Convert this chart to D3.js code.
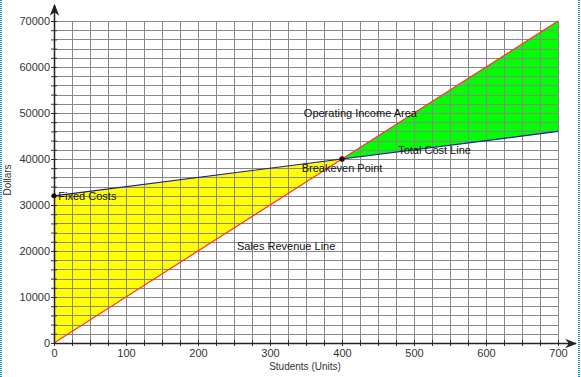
<!DOCTYPE html>
<html>
<head>
<meta charset="utf-8">
<script src="https://cdn.jsdelivr.net/npm/d3@7"></script>
<style>
  body { margin: 0; background: #fff; }
  svg { display: block; }
</style>
</head>
<body>
<svg width="581" height="377"></svg>
<script>
// исходные данные
const students = [0, 400, 700];
const fixedCosts = 32000;
const totalCost = [32000, 40000, 46000];
const salesRevenue = [0, 40000, 70000];
const xTicks = [0, 100, 200, 300, 400, 500, 600, 700];
const yTicks = [0, 10000, 20000, 30000, 40000, 50000, 60000, 70000];
const breakeven = {x: 400, y: 40000};
// подписи: точка начала текста в единицах графика
const labels = [
    {text: "Operating Income Area", x: 347, y: 49100},
    {text: "Total Cost Line", x: 478, y: 41100},
    {text: "Breakeven Point", x: 344, y: 37200},
    {text: "Sales Revenue Line", x: 254, y: 20200},
    {text: "Fixed Costs", x: 6, y: 31100}
];

const svg = d3.select("svg");
const W = 581, H = 377;

// рамка слева и справа
svg.append("line").attr("x1", 1).attr("x2", 1).attr("y1", 0).attr("y2", H)
    .attr("stroke", "#1a8ad8").attr("stroke-width", 2).attr("stroke-dasharray", "1,1");
svg.append("line").attr("x1", 579).attr("x2", 579).attr("y1", 0).attr("y2", H)
    .attr("stroke", "#1a8ad8").attr("stroke-width", 2).attr("stroke-dasharray", "1,1");

const scX = d3.scaleLinear().domain([0, 700]).range([54, 558]);
const scY = d3.scaleLinear().domain([0, 70000]).range([343, 21]);

// заливки
const loss = d3.range(0, 2).map(i => [students[i], totalCost[i]])
    .concat(d3.range(1, -1, -1).map(i => [students[i], salesRevenue[i]]));
const income = d3.range(1, 3).map(i => [students[i], salesRevenue[i]])
    .concat(d3.range(2, 0, -1).map(i => [students[i], totalCost[i]]));

const area = d3.line().x(d => scX(d[0])).y(d => scY(d[1]));
svg.append("path").attr("d", area(loss) + "Z").attr("fill", "#ffff00");
svg.append("path").attr("d", area(income) + "Z").attr("fill", "#00ff00");

// сетка
const g = svg.append("g").attr("stroke", "#888").attr("stroke-width", 1);
g.selectAll(".vx").data(d3.range(25, 701, 25)).enter().append("line")
    .attr("x1", d => Math.round(scX(d)) + 0.5).attr("x2", d => Math.round(scX(d)) + 0.5)
    .attr("y1", scY(70000)).attr("y2", scY(0));
g.selectAll(".hy").data(d3.range(2000, 70001, 2000)).enter().append("line")
    .attr("y1", d => Math.round(scY(d)) + 0.5).attr("y2", d => Math.round(scY(d)) + 0.5)
    .attr("x1", scX(0)).attr("x2", scX(700));

// линии
const line = d3.line().x((d, i) => scX(students[i])).y(d => scY(d));
svg.append("path").attr("d", line(totalCost)).attr("fill", "none")
    .attr("stroke", "#1a1a99").attr("stroke-width", 1.2);
svg.append("path").attr("d", line(salesRevenue)).attr("fill", "none")
    .attr("stroke", "#ff3333").attr("stroke-width", 1.2);

// оси
const axisX = d3.axisBottom(scX).tickValues(d3.range(0, 701, 25))
    .tickSize(4).tickFormat(d => xTicks.includes(d) ? d : "");
const axisY = d3.axisLeft(scY).tickValues(d3.range(0, 70001, 2000))
    .tickSize(4).tickFormat(d => yTicks.includes(d) ? d : "");

const gx = svg.append("g").attr("transform", `translate(0, ${scY(0)})`).call(axisX);
gx.select(".domain").remove();
gx.selectAll("line").attr("stroke", "#333").attr("y1", -3).attr("y2", 3);
gx.selectAll("text").attr("y", 6).attr("dy", "0.71em");

const gy = svg.append("g").attr("transform", `translate(${scX(0)}, 0)`).call(axisY);
gy.select(".domain").remove();
gy.selectAll("line").attr("stroke", "#333").attr("x1", -3).attr("x2", 3);
gy.selectAll("text").attr("x", -4);

svg.selectAll(".tick text").attr("font-family", "Liberation Sans, Arial, sans-serif")
    .attr("font-size", 11).attr("fill", "#333");

// линии осей со стрелками
svg.append("defs").append("marker").attr("id", "arr")
    .attr("viewBox", "0 0 10 10").attr("refX", 9).attr("refY", 5)
    .attr("markerWidth", 8).attr("markerHeight", 8).attr("orient", "auto")
    .append("path").attr("d", "M0,1 L10,5 L0,9 L3,5 Z").attr("fill", "#222");
svg.append("line").attr("x1", scX(0)).attr("x2", 581 - 5).attr("y1", scY(0) + 0.5).attr("y2", scY(0) + 0.5)
    .attr("stroke", "#222").attr("stroke-width", 1.5).attr("marker-end", "url(#arr)");
svg.append("line").attr("x1", scX(0) + 0.5).attr("x2", scX(0) + 0.5).attr("y1", scY(0)).attr("y2", 5)
    .attr("stroke", "#222").attr("stroke-width", 1.5).attr("marker-end", "url(#arr)");

// точки
svg.append("circle").attr("cx", scX(0)).attr("cy", scY(fixedCosts)).attr("r", 2.5).attr("fill", "#111");
svg.append("circle").attr("cx", scX(breakeven.x)).attr("cy", scY(breakeven.y)).attr("r", 2.5)
    .attr("fill", "#111").attr("stroke", "#800").attr("stroke-width", 0.8);

// подписи
svg.selectAll(".lbl").data(labels).enter().append("text")
    .attr("x", d => scX(d.x)).attr("y", d => scY(d.y))
    .attr("text-anchor", "start")
    .attr("font-family", "Liberation Sans, Arial, sans-serif").attr("font-size", 11)
    .attr("fill", "#111").text(d => d.text);

svg.append("text").attr("x", 305).attr("y", 370).attr("text-anchor", "middle")
    .attr("font-family", "Liberation Sans, Arial, sans-serif").attr("font-size", 10)
    .attr("fill", "#333").text("Students (Units)");
svg.append("text").attr("transform", "translate(11, 180) rotate(-90)").attr("text-anchor", "middle")
    .attr("font-family", "Liberation Sans, Arial, sans-serif").attr("font-size", 10)
    .attr("fill", "#333").text("Dollars");
</script>
</body>
</html>
